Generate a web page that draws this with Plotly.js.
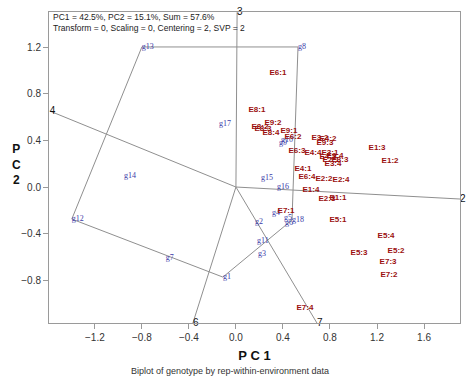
<!DOCTYPE html>
<html>
<head>
<meta charset="utf-8">
<script src="https://cdn.plot.ly/plotly-3.0.1.min.js"></script>
<style>html,body{margin:0;padding:0;background:#fff;}#chart{width:474px;height:386px;}</style>
</head>
<body>
<div id="chart"></div>
<script>
// Genotype scores (PC1, PC2)
const genoNames = ["g1","g2","g3","g4","g5","g6","g7","g8","g9","g10","g11","g12","g13","g14","g15","g16","g17","g18"];
const genoPC1 = [-0.111,0.162,0.187,0.306,0.409,0.417,-0.596,0.528,0.366,0.383,0.179,-1.396,-0.800,-0.953,0.213,0.349,-0.145,0.477];
const genoPC2 = [-0.773,-0.300,-0.575,-0.223,-0.266,-0.309,-0.609,1.202,0.378,0.403,-0.464,-0.275,1.202,0.094,0.077,0.000,0.541,-0.283];

// Environment (rep-within-environment) scores
const envNames = ["E1:1","E1:2","E1:3","E1:4","E2:1","E2:2","E2:3","E2:4","E3:1","E3:2","E3:3","E3:4",
  "E4:1","E4:2","E4:3","E4:4","E5:1","E5:2","E5:3","E5:4","E6:1","E6:2","E6:3","E6:4",
  "E7:1","E7:2","E7:3","E7:4","E8:1","E8:2","E8:3","E8:4","E9:1","E9:2","E9:3","E9:4"];
const envPC1 = [0.868,1.311,1.200,0.638,0.809,0.749,0.774,0.894,0.800,0.715,0.885,0.826,
  0.570,0.783,0.783,0.655,0.868,1.362,1.047,1.277,0.357,0.485,0.519,0.604,
  0.426,1.302,1.294,0.587,0.179,0.204,0.230,0.298,0.451,0.315,0.757,0.843];
const envPC2 = [-0.094,0.223,0.335,-0.026,0.232,0.069,-0.103,0.060,0.292,0.421,0.232,0.197,
  0.155,0.412,0.258,0.292,-0.283,-0.549,-0.567,-0.421,0.979,0.429,0.309,0.086,
  -0.206,-0.755,-0.644,-1.039,0.661,0.515,0.498,0.464,0.481,0.549,0.378,0.266];

// Polygon vertices (which-won-where)
const polygon = ["g13","g8","g18","g1","g12","g13"];

// Sector rays from the origin
const sectorNames = ["2","3","4","6","7"];
const sectorPC1 = [1.906,0.010,-1.583,-0.366,0.689];
const sectorPC2 = [-0.103,1.500,0.652,-1.167,-1.167];

const polyX = polygon.map(n => genoPC1[genoNames.indexOf(n)]);
const polyY = polygon.map(n => genoPC2[genoNames.indexOf(n)]);
const rayX = [], rayY = [];
sectorPC1.forEach((v,i) => { rayX.push(0, v, null); rayY.push(0, sectorPC2[i], null); });

const lineStyle = {color:'#8f8f8f', width:1};
const traces = [
  {x: polyX, y: polyY, mode:'lines', line: lineStyle, hoverinfo:'skip', cliponaxis:false},
  {x: rayX, y: rayY, mode:'lines', line: lineStyle, hoverinfo:'skip'},
  {x: sectorPC1, y: sectorPC2, mode:'text', text: sectorNames, textposition:'middle right',
   textfont:{family:'Liberation Sans, Arial', size:10, color:'#111'}, cliponaxis:false, hoverinfo:'skip'},
  {x: genoPC1, y: genoPC2, mode:'text', text: genoNames, textposition:'middle right',
   textfont:{family:'Liberation Serif, Times New Roman, serif', size:8, color:'#3a3aa8'}, cliponaxis:false, hoverinfo:'skip'},
  {x: envPC1, y: envPC2, mode:'text', text: envNames.map(s => '<b>'+s+'</b>'), textposition:'middle center',
   textfont:{family:'Liberation Sans, Arial', size:8, color:'#9b0f0f'}, cliponaxis:false, hoverinfo:'skip'}
];

const axisCommon = {
  showgrid:false, zeroline:false, showline:true, mirror:true, linecolor:'#9a9a9a', linewidth:1,
  ticks:'outside', ticklen:5, tickcolor:'#9a9a9a', tickformat:'.1f',
  tickfont:{family:'Liberation Sans, Arial', size:10, color:'#333'}
};

const layout = {
  width:474, height:386,
  margin:{l:49, r:14, t:12, b:63},
  paper_bgcolor:'#fff', plot_bgcolor:'#fff',
  showlegend:false,
  xaxis: Object.assign({}, axisCommon, {range:[-1.59,1.906], tickvals:[-1.2,-0.8,-0.4,0,0.4,0.8,1.2,1.6],
    title:{text:'<b>P C 1</b>', font:{family:'Liberation Sans, Arial', size:13, color:'#111'}, standoff:8}}),
  yaxis: Object.assign({}, axisCommon, {range:[-1.167,1.502], tickvals:[-0.8,-0.4,0,0.4,0.8,1.2]}),
  annotations:[
    {xref:'paper', yref:'paper', x:-0.078, y:0.51, xanchor:'center', yanchor:'middle', showarrow:false,
     text:'<b>P<br>C<br>2</b>', font:{family:'Liberation Sans, Arial', size:12, color:'#111'}},
    {xref:'paper', yref:'paper', x:0.004, y:1.0, yshift:2, xanchor:'left', yanchor:'top', showarrow:false, align:'left',
     text:'PC1 = 42.5%, PC2 = 15.1%, Sum = 57.6%<br>Transform = 0, Scaling = 0, Centering = 2, SVP = 2',
     font:{family:'Liberation Sans, Arial', size:8.5, color:'#222'}},
    {xref:'paper', yref:'paper', x:0.44, y:-0.154, xanchor:'center', yanchor:'middle', showarrow:false,
     text:'Biplot of genotype by rep-within-environment data',
     font:{family:'Liberation Sans, Arial', size:9, color:'#333'}}
  ]
};

Plotly.newPlot('chart', traces, layout, {staticPlot:true, displayModeBar:false});
</script>
</body>
</html>
